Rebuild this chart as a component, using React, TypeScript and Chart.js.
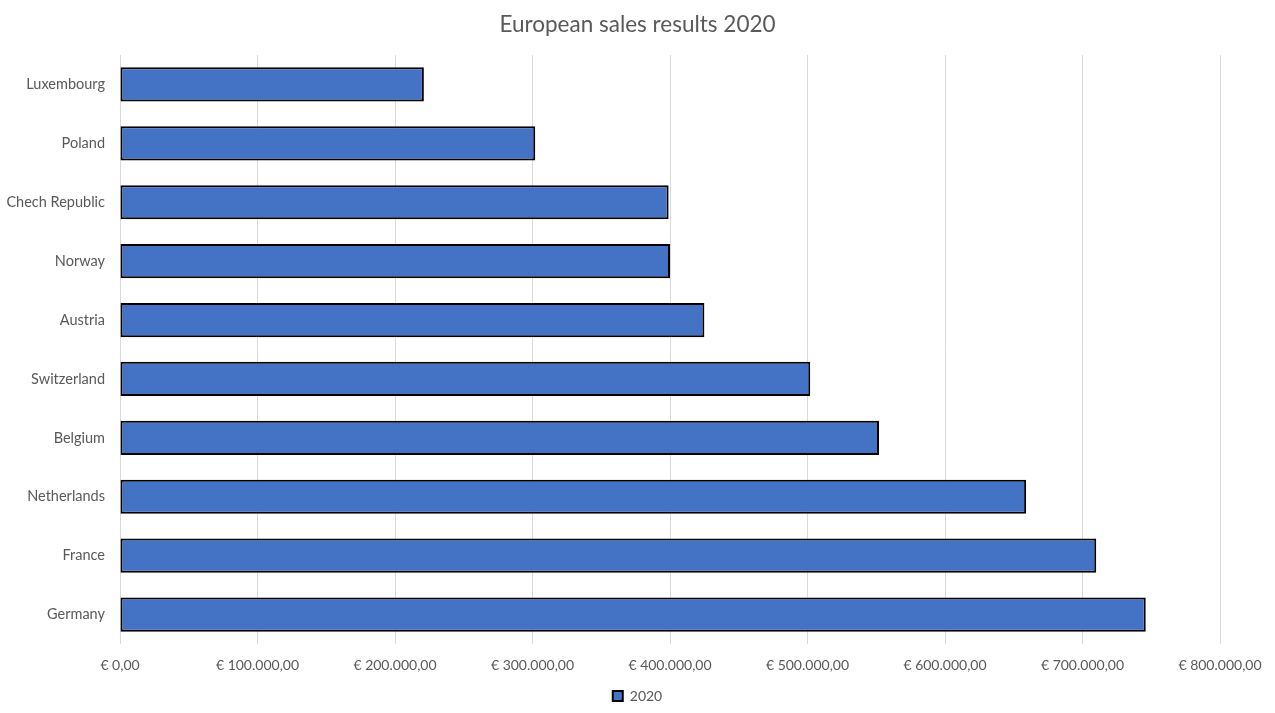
import { useEffect, useRef } from "react";
import { Chart, registerables } from "chart.js";

Chart.register(...registerables);

const countries = [
  "Luxembourg",
  "Poland",
  "Chech Republic",
  "Norway",
  "Austria",
  "Switzerland",
  "Belgium",
  "Netherlands",
  "France",
  "Germany",
];
const sales2020 = [221000, 302000, 399000, 400000, 425000, 502000, 552000, 659000, 710000, 746000];
const xTicks = [0, 100000, 200000, 300000, 400000, 500000, 600000, 700000, 800000];

const textColor = "#595959";
const fontFamily = "Lato, 'Open Sans', sans-serif";

// "€ 100.000,00" style, as the reference uses
function euro(v: number) {
  const whole = Math.round(v)
    .toString()
    .replace(/\B(?=(\d{3})+(?!\d))/g, ".");
  return `€ ${whole},00`;
}

export default function App() {
  const chartRef = useRef<HTMLCanvasElement>(null);
  const chartInstance = useRef<Chart | null>(null);

  useEffect(() => {
    if (!chartRef.current) return;
    document.body.style.margin = "0";

    if (chartInstance.current) {
      chartInstance.current.destroy();
    }

    const ctx = chartRef.current.getContext("2d");
    if (!ctx) return;

    chartInstance.current = new Chart(ctx, {
      type: "bar",
      data: {
        labels: countries,
        datasets: [
          {
            label: "2020",
            data: sales2020,
            backgroundColor: "#4472c4",
            borderColor: "#000000",
            borderWidth: 2,
            borderSkipped: false,
            barPercentage: 0.58,
            categoryPercentage: 1,
          },
        ],
      },
      options: {
        indexAxis: "y",
        animation: false,
        responsive: false,
        maintainAspectRatio: false,
        layout: { padding: 0 },
        plugins: {
          title: {
            display: true,
            text: "European sales results 2020",
            color: textColor,
            font: { family: fontFamily, size: 22.5, weight: "normal" },
            padding: { top: 11, bottom: 17 },
          },
          legend: {
            display: true,
            position: "bottom",
            labels: {
              color: textColor,
              boxWidth: 10,
              boxHeight: 10,
              padding: 10,
              font: { family: fontFamily, size: 14 },
            },
          },
          tooltip: { enabled: false },
        },
        scales: {
          x: {
            min: 0,
            max: 800000,
            afterBuildTicks: (scale) => {
              scale.ticks = xTicks.map((value) => ({ value }));
            },
            afterFit: (scale) => {
              scale.height = 35;
            },
            grid: {
              color: "#d9d9d9",
              drawTicks: false,
            },
            border: { display: false },
            ticks: {
              color: textColor,
              padding: 13,
              maxRotation: 0,
              font: { family: fontFamily, size: 14 },
              callback: (value) => euro(Number(value)),
            },
          },
          y: {
            afterFit: (scale) => {
              scale.width = 120;
            },
            grid: { display: false, drawTicks: false },
            border: { display: false },
            ticks: {
              color: textColor,
              padding: 15,
              font: { family: fontFamily, size: 14.5 },
            },
          },
          // empty right-hand axis, only keeps space so title/legend stay centred on the canvas
          yRight: {
            type: "category",
            position: "right",
            labels: countries,
            afterFit: (scale) => {
              scale.width = 55;
            },
            grid: { display: false, drawTicks: false },
            border: { display: false },
            ticks: { display: false },
          },
        },
      },
    });

    return () => {
      if (chartInstance.current) {
        chartInstance.current.destroy();
        chartInstance.current = null;
      }
    };
  }, []);

  return (
    <div style={{ width: 1275, height: 713, background: "#ffffff" }}>
      <canvas ref={chartRef} width={1275} height={713} />
    </div>
  );
}
